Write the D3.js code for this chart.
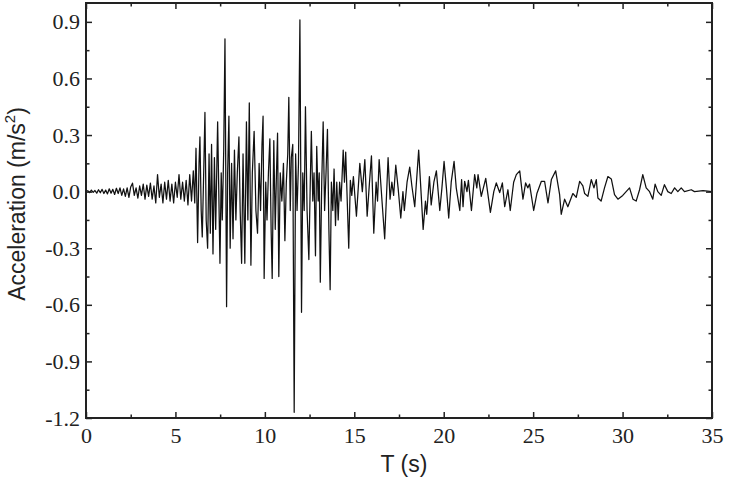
<!DOCTYPE html>
<html>
<head>
  <meta charset="UTF-8">
  <title>Acceleration record</title>
  <script src="https://cdn.jsdelivr.net/npm/d3@7"></script>
  <style>
    body { margin: 0; background: #fff; }
    .tick text { font-family: "Liberation Serif", "Times New Roman", serif; font-size: 22px; fill: #222; }
    .axis path, .axis line { stroke: #222; }
    .title { font-family: "Liberation Sans", Arial, sans-serif; font-size: 23px; fill: #222; }
  </style>
</head>
<body>
<svg id="chart" width="733" height="484"></svg>
<script>
// time (s) of each turning point
const times = [
  0.0, 0.1, 0.2, 0.3, 0.4, 0.5, 0.6, 0.7, 0.8, 0.9,
  1.0, 1.1, 1.2, 1.3, 1.4, 1.5, 1.6, 1.7, 1.8, 1.9,
  2.0, 2.1, 2.2, 2.3, 2.4, 2.5, 2.6, 2.7, 2.8, 2.9,
  3.0, 3.1, 3.2, 3.3, 3.4, 3.5, 3.6, 3.7, 3.8, 3.9,
  4.0, 4.1, 4.2, 4.3, 4.4, 4.5, 4.6, 4.7, 4.8, 4.9,
  5.0, 5.1, 5.2, 5.3, 5.4, 5.5, 5.6, 5.7, 5.8, 5.9,
  6.0, 6.08,
  6.15, 6.24, 6.32, 6.37, 6.44, 6.5, 6.58, 6.65, 6.72, 6.8,
  6.88, 6.95, 7.02, 7.1, 7.18, 7.25, 7.36, 7.49, 7.56, 7.62,
  7.7, 7.77, 7.86, 7.92, 7.99, 8.06, 8.14, 8.22, 8.3, 8.38,
  8.46, 8.55, 8.62, 8.7, 8.78, 8.88, 8.97, 9.05, 9.13, 9.22,
  9.3, 9.4, 9.5, 9.59, 9.68, 9.76, 9.84, 9.9, 9.96, 10.05,
  10.12, 10.2, 10.28, 10.35, 10.41, 10.5, 10.58, 10.65, 10.71, 10.78,
  10.86, 10.95, 11.04, 11.12, 11.2, 11.28, 11.34, 11.42, 11.48, 11.56,
  11.64, 11.72, 11.8, 11.88, 11.96, 12.05, 12.12, 12.2, 12.27, 12.36,
  12.46, 12.54, 12.6, 12.68, 12.75, 12.83, 12.9, 12.98, 13.04, 13.1,
  13.18, 13.26, 13.34, 13.42, 13.5, 13.58, 13.65, 13.72, 13.8, 13.87,
  13.95, 14.02, 14.1, 14.18, 14.26, 14.38, 14.45, 14.52, 14.69, 14.78,
  14.86, 14.95, 15.12, 15.31, 15.45, 15.59, 15.72, 15.85, 15.96, 16.09,
  16.22, 16.3, 16.39, 16.55, 16.7, 16.89, 17.0, 17.1, 17.2, 17.32,
  17.45, 17.6, 17.72, 17.8, 17.95, 18.1, 18.22, 18.38, 18.6, 18.85,
  18.98, 19.05, 19.2, 19.3, 19.45, 19.59, 19.78, 19.9, 20.02, 20.15,
  20.28, 20.42, 20.58, 20.7, 20.9, 21.0, 21.08, 21.17, 21.3, 21.38,
  21.55, 21.73, 21.85, 21.92, 22.1, 22.35, 22.61, 22.8, 22.94, 23.13,
  23.28, 23.41, 23.59, 23.72, 23.91, 24.06, 24.25, 24.43, 24.58, 24.7,
  24.8, 25.03, 25.21, 25.46, 25.64, 25.83, 26.02, 26.26, 26.48, 26.57,
  26.76, 26.94, 27.22, 27.41, 27.6, 27.78, 27.88, 28.06, 28.25, 28.4,
  28.53, 28.62, 28.8, 28.99, 29.18, 29.37, 29.55, 29.74, 30.01, 30.2,
  30.39, 30.58, 30.76, 30.95, 31.13, 31.32, 31.51, 31.69, 31.82, 31.97,
  32.16, 32.34, 32.53, 32.72, 32.91, 33.09, 33.28, 33.46, 33.84, 34.02,
  34.5, 35.0
];

// acceleration (m/s^2) at each of those times
const accel = [
  0.0, 0.005, -0.005, 0.008, -0.004, 0.006, -0.008, 0.01, -0.006, 0.012,
  -0.01, 0.008, -0.012, 0.015, -0.008, 0.012, -0.015, 0.018, -0.01, 0.02,
  -0.02, 0.015, -0.025, 0.02, -0.03, 0.025, 0.045, -0.02, 0.02, -0.035,
  0.03, -0.02, 0.04, -0.04, 0.035, -0.025, 0.045, -0.04, 0.03, -0.06,
  0.09, -0.03, 0.04, -0.06, 0.05, -0.04, 0.06, -0.05, 0.04, -0.06,
  0.05, -0.03, 0.09, -0.04, 0.05, -0.05, 0.06, -0.07, 0.09, -0.05,
  0.11, -0.06,
  0.23, -0.27, 0.15, 0.29, -0.1, -0.24, 0.1, 0.42, -0.15, -0.3,
  0.2, -0.22, 0.25, -0.33, 0.18, -0.2, 0.37, -0.38, 0.1, -0.15,
  0.22, 0.81, -0.61, 0.1, 0.4, -0.3, 0.15, -0.25, 0.22, -0.15,
  0.1, 0.29, -0.1, -0.38, 0.2, -0.38, 0.37, -0.15, 0.47, -0.39,
  0.1, 0.32, -0.1, -0.22, 0.15, -0.1, 0.25, 0.4, -0.46, 0.05,
  -0.15, 0.1, 0.28, -0.2, -0.46, 0.27, -0.2, 0.1, 0.31, -0.45,
  0.1, -0.05, 0.15, -0.26, 0.05, 0.2, 0.5, -0.1, 0.18, 0.25,
  -1.17, 0.2, -0.1, 0.15, 0.91, -0.64, 0.1, -0.1, 0.45, -0.1,
  -0.36, 0.05, 0.32, -0.05, 0.1, -0.34, 0.24, -0.05, 0.1, -0.48,
  0.05, 0.37, -0.1, 0.1, 0.33, -0.2, -0.52, 0.05, -0.1, 0.12,
  -0.18, 0.05, -0.15, 0.05, -0.05, 0.22, 0.05, 0.21, -0.3, 0.06,
  -0.02, 0.08, -0.13, 0.15, 0.0, 0.17, -0.13, 0.05, 0.19, -0.22,
  0.05, -0.05, 0.17, -0.05, -0.25, 0.18, -0.04, 0.05, -0.02, 0.14,
  0.02, -0.14, 0.0, -0.1, 0.05, 0.13, 0.03, -0.08, 0.22, -0.2,
  -0.05, -0.12, 0.08, -0.07, 0.05, 0.11, -0.1, 0.02, 0.16, 0.02,
  -0.14, 0.05, 0.16, 0.02, -0.1, 0.064, -0.08, 0.055, 0.0, 0.06,
  -0.1, 0.09, 0.02, 0.09, -0.025, 0.07, -0.11, 0.0, 0.046, -0.005,
  0.046, -0.08, 0.01, -0.1, 0.05, 0.09, 0.11, -0.04, 0.046, 0.02,
  0.04, -0.1, -0.01, 0.055, 0.055, -0.06, 0.064, 0.11, -0.016, -0.12,
  -0.04, -0.08, -0.01, -0.03, 0.055, 0.03, -0.01, -0.025, 0.064, 0.02,
  0.064, -0.034, -0.05, 0.02, 0.08, 0.067, -0.016, -0.04, -0.02, 0.0,
  0.02, -0.04, -0.05, 0.01, 0.09, 0.02, 0.0, -0.04, 0.04, 0.0,
  -0.02, 0.037, 0.0, -0.01, 0.02, 0.0, 0.02, 0.0, 0.01, 0.0,
  0.005, 0.0
];

const xMajor = [0, 5, 10, 15, 20, 25, 30, 35];
const xMinor = [2.5, 7.5, 12.5, 17.5, 22.5, 27.5, 32.5];
const yMajor = [-1.2, -0.9, -0.6, -0.3, 0.0, 0.3, 0.6, 0.9];
const yMinor = [-1.05, -0.75, -0.45, -0.15, 0.15, 0.45, 0.75];

const svg = d3.select('#chart');
const plotLeft = 86, plotRight = 712, plotTop = 3, plotBottom = 418;

const x = d3.scaleLinear().domain([0, 35]).range([plotLeft, plotRight]);
const y = d3.scaleLinear().domain([-1.2, 1.0]).range([plotBottom, plotTop]);

const points = times.map((t, i) => [t, accel[i]]);

svg.append('path')
  .datum(points)
  .attr('fill', 'none')
  .attr('stroke', '#111')
  .attr('stroke-width', 1.25)
  .attr('stroke-linejoin', 'round')
  .attr('d', d3.line().x(d => x(d[0])).y(d => y(d[1])));

function drawAxis(axis, tx, ty, labels)
{
  const g = svg.append('g').attr('class', 'axis')
    .attr('transform', `translate(${tx},${ty})`)
    .call(axis);
  g.select('.domain').remove();
  g.selectAll('line').attr('stroke-width', 1.5);
  if (!labels) g.selectAll('text').remove();
  return g;
}

const yFormat = d => d3.format('.1f')(d).replace('\u2212', '-');

// bottom
drawAxis(d3.axisBottom(x).tickValues(xMajor).tickSize(-6).tickPadding(9).tickFormat(d3.format('d')), 0, plotBottom, true);
drawAxis(d3.axisBottom(x).tickValues(xMinor).tickSize(-3.5), 0, plotBottom, false);
// top
drawAxis(d3.axisTop(x).tickValues(xMajor).tickSize(-6), 0, plotTop, false);
drawAxis(d3.axisTop(x).tickValues(xMinor).tickSize(-3.5), 0, plotTop, false);
// left
drawAxis(d3.axisLeft(y).tickValues(yMajor).tickSize(-6).tickPadding(6).tickFormat(yFormat), plotLeft, 0, true);
drawAxis(d3.axisLeft(y).tickValues(yMinor).tickSize(-3.5), plotLeft, 0, false);
// right
drawAxis(d3.axisRight(y).tickValues(yMajor).tickSize(-6), plotRight, 0, false);
drawAxis(d3.axisRight(y).tickValues(yMinor).tickSize(-3.5), plotRight, 0, false);

// frame
svg.append('rect')
  .attr('x', plotLeft).attr('y', plotTop)
  .attr('width', plotRight - plotLeft).attr('height', plotBottom - plotTop)
  .attr('fill', 'none')
  .attr('stroke', '#222')
  .attr('stroke-width', 2);

// axis titles
svg.append('text')
  .attr('class', 'title')
  .attr('x', 404).attr('y', 472)
  .attr('text-anchor', 'middle')
  .text('T (s)');

const yTitle = svg.append('text')
  .attr('class', 'title')
  .attr('transform', 'translate(25,204) rotate(-90)')
  .attr('text-anchor', 'middle');
yTitle.append('tspan').text('Acceleration (m/s');
yTitle.append('tspan').attr('dy', -10).style('font-size', '15px').text('2');
yTitle.append('tspan').attr('dy', 10).text(')');
</script>
</body>
</html>
